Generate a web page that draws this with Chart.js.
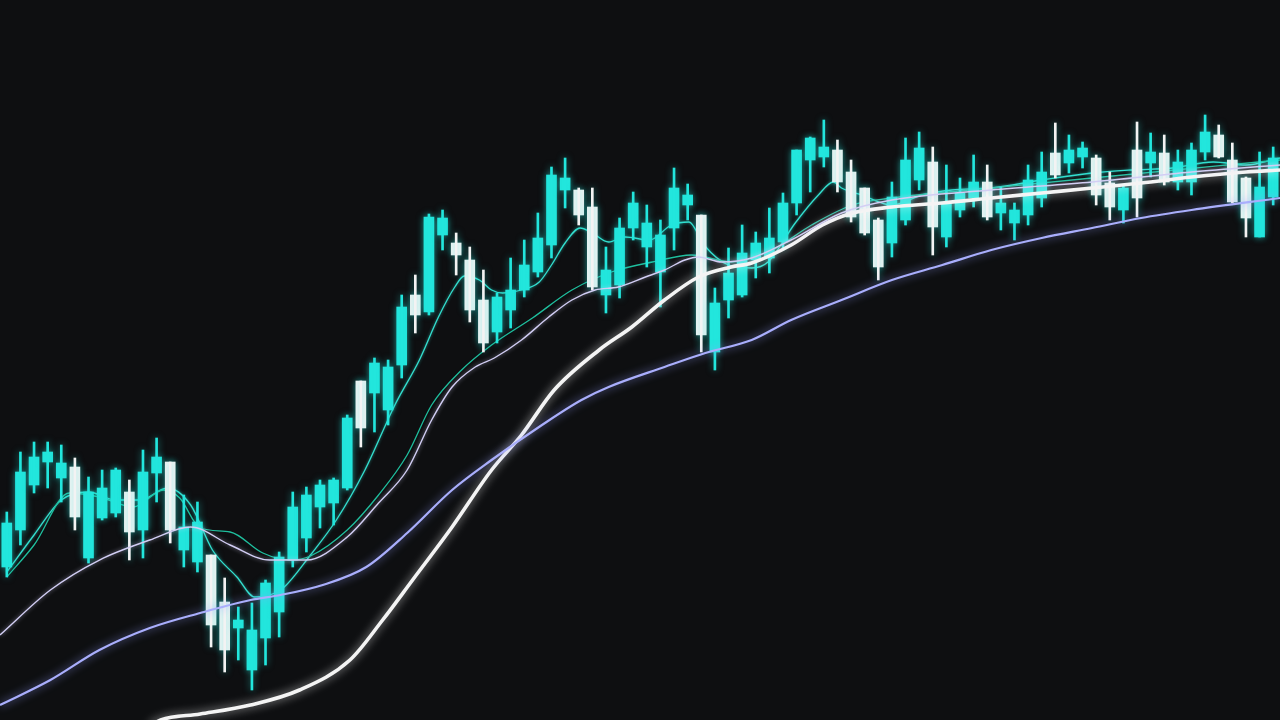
<!DOCTYPE html>
<html>
<head>
<meta charset="utf-8">
<script src="https://cdn.jsdelivr.net/npm/chart.js@4"></script>
<style>
  html, body { margin: 0; padding: 0; background: #0e0f11; }
  #wrap { width: 1280px; height: 720px; }
</style>
</head>
<body>
<div id="wrap"><canvas id="myChart" width="1280" height="720"></canvas></div>
<script>
// candle prices (one entry per session)
const opens  = [15.3,19.0,23.5,25.8,24.2,25.3,16.2,20.2,20.7,22.8,19.0,24.7,25.8,17.0,15.8,16.5,11.8,9.2,5.0,8.2,10.8,16.0,18.2,21.3,21.7,23.2,33.9,32.7,31.0,35.5,42.5,40.8,48.5,47.7,46.0,42.0,38.8,41.0,43.0,44.8,47.5,53.0,53.0,51.3,42.5,43.5,49.2,47.3,44.8,49.2,51.5,50.5,36.8,42.0,42.5,46.0,46.2,47.8,51.7,56.0,56.3,57.0,54.8,53.2,50.0,47.7,50.0,54.0,55.8,48.3,51.0,52.2,53.8,50.7,49.7,50.5,52.2,56.7,55.7,56.3,56.2,53.7,51.0,57.0,55.7,56.7,53.8,53.8,56.8,58.5,56.0,54.2,48.3,52.3];
const highs  = [20.8,26.8,27.8,27.8,27.5,26.2,24.3,25.0,25.2,24.0,27.0,28.2,25.8,22.5,21.8,16.5,14.2,11.3,11.7,14.0,16.8,22.8,23.3,24.0,24.2,30.5,33.9,36.2,36.0,42.5,44.5,50.6,51.0,48.7,47.3,45.0,42.7,46.2,48.0,50.7,55.3,56.2,53.2,53.2,47.3,50.2,52.8,51.5,50.0,55.2,53.6,50.5,43.2,47.2,49.5,48.8,51.2,52.7,57.0,58.3,60.0,58.0,56.0,53.2,50.2,53.8,58.2,58.8,57.3,55.5,54.2,56.5,55.5,53.3,51.7,55.5,56.8,59.7,58.5,57.8,56.5,54.8,53.5,59.8,58.7,58.5,57.0,57.7,60.5,59.5,57.7,54.3,56.8,57.3];
const lows   = [14.3,17.5,22.7,23.2,21.8,19.0,15.7,20.0,20.3,16.0,16.2,21.8,17.7,15.3,14.8,7.3,4.8,6.0,3.0,5.5,8.3,15.3,16.8,19.2,19.5,23.0,27.3,28.8,29.5,34.2,38.7,40.5,47.0,44.5,39.8,36.8,37.7,39.2,42.3,44.3,46.2,51.2,49.5,43.0,40.7,42.2,48.0,45.3,41.3,47.0,50.0,36.8,35.0,40.2,42.3,44.2,44.7,47.0,50.5,52.8,55.3,52.8,49.8,48.5,44.0,46.3,49.5,53.0,46.5,47.3,50.3,51.3,50.0,49.0,48.0,49.5,51.3,54.2,54.7,55.2,51.5,50.0,49.7,50.3,54.3,53.5,53.0,52.5,56.0,56.2,51.7,48.3,48.3,51.5];
const closes = [19.7,24.8,26.3,26.8,25.7,20.3,22.8,23.2,25.0,18.8,24.8,26.3,19.0,19.3,19.8,9.5,7.0,10.0,9.0,13.7,16.3,21.3,22.5,23.5,24.0,30.2,29.2,35.7,35.3,41.3,40.5,50.3,50.2,46.5,41.0,37.7,42.3,43.0,45.5,48.2,54.5,54.2,50.5,43.3,45.0,49.2,51.7,49.7,48.5,53.2,52.5,38.5,41.7,44.7,46.7,47.7,48.2,51.7,57.0,58.2,57.3,53.8,50.3,48.7,45.3,52.3,56.0,57.2,49.3,51.8,52.7,53.8,50.3,51.7,51.0,54.0,54.8,54.5,57.0,57.2,52.5,51.3,53.2,52.2,56.8,53.8,55.8,57.0,58.8,56.3,51.8,50.2,53.3,56.2];

// moving average lines, [session index, value]
const ma5 = [[0,14.8],[2,18.5],[4,22.0],[6,22.8],[8,22.0],[9.8,22.0],[11.8,23.2],[13.5,21.5],[15.1,17.0],[16.9,14.3],[18.2,12.3],[19.3,12.5],[20.3,13.2],[22.3,16.5],[24.2,20.0],[26.3,25.0],[28.5,31.5],[30.3,36.0],[31.7,40.3],[32.9,43.3],[33.6,44.4],[34.7,44.0],[35.6,43.0],[36.4,42.7],[37.8,43.0],[39.1,43.8],[40,45.5],[41,47.7],[42.1,49.2],[43,48.7],[44.2,47.8],[45.4,48.3],[47.2,48.0],[48.8,49.5],[50.1,49.8],[51.2,47.5],[53,45.5],[54.7,45.2],[55.9,45.8],[57.9,49.7],[59.6,52.5],[60.7,53.8],[61.3,53.2],[62.8,52.5],[65,51.5],[67.2,52.5],[69.4,53.0],[72.3,53.2],[76,54.0],[79.7,54.7],[82.6,55.0],[85.6,55.2],[88.6,55.8],[91,55.5],[93.5,56.2]];
const ma10 = [[0,14.3],[2,17.5],[4.6,22.7],[6.8,22.3],[9.3,21.3],[11.5,23.0],[12.7,22.2],[14.2,19.2],[16.4,18.8],[18.8,16.7],[20.8,16.0],[22.3,16.4],[25,19.0],[27.3,22.5],[29.4,26.5],[31.2,31.5],[33.4,35.0],[35.6,37.5],[38.6,40.2],[41.5,43.0],[44.4,44.8],[47.4,45.8],[50.3,46.5],[53.2,45.8],[56.2,47.0],[59.1,49.5],[62.1,51.5],[65,52.2],[72.3,53.2],[79.7,54.2],[93.5,56.0]];
const ma20 = [[-0.5,8.5],[3.2,13.0],[6.8,16.0],[10.5,18.0],[13.5,19.3],[16.4,17.5],[19.3,16.0],[22,16.0],[25,18.3],[27.3,21.7],[29.4,25.0],[31.2,30.0],[32.7,33.3],[34.4,35.3],[35.8,36.2],[37.8,38.0],[39.8,40.3],[41.5,42.0],[43.2,43.0],[44.9,43.3],[46.9,44.3],[48.3,45.0],[49.8,46.0],[50.8,46.3],[52.5,45.8],[54.7,46.2],[57.6,48.0],[61.3,50.7],[65,52.0],[72.3,53.0],[79.7,53.8],[87,54.8],[93.5,55.5]];
const ma30 = [[10.5,-0.6],[11.3,0.0],[14.2,0.6],[17.9,1.5],[21.5,3.0],[25.2,6.0],[27.6,10.0],[29.8,14.0],[32.7,19.3],[35.6,25.0],[37.8,28.5],[40.2,33.0],[43.5,37.0],[45.9,39.3],[48.3,42.0],[50.8,44.3],[53.2,45.3],[54.7,45.7],[57.6,47.5],[59.9,49.5],[62.1,50.7],[65,51.3],[68.7,51.7],[72.3,52.2],[76,52.7],[79.7,53.2],[83.3,53.7],[87,54.3],[91,54.8],[93.5,55.0]];
const ma60 = [[-0.5,1.5],[3.2,4.0],[6.8,7.0],[10.5,9.2],[14.2,10.7],[17.9,12.0],[20.1,12.5],[23.2,13.5],[26.4,15.3],[29.4,18.7],[32.7,23.0],[35.6,26.0],[39.3,29.5],[42.2,32.0],[44.2,33.3],[48.3,35.3],[51.3,36.7],[54.7,38.0],[57.6,40.0],[61.3,42.0],[65,44.0],[68.7,45.5],[72.3,47.0],[76,48.2],[79.7,49.2],[83.3,50.2],[87,51.0],[93.5,52.2]];

const UP = '#22e6dd';
const DOWN = '#f3f3f3';

const labels = opens.map((o, i) => 'd' + (i + 1));
const candleColors = opens.map((o, i) => closes[i] >= o ? UP : DOWN);

function toPoints(list) {
    return list.map(p => ({ x: p[0], y: p[1] }));
}

function maLine(list, color, width, glow, glowColor) {
    return {
        type: 'line',
        xAxisID: 'xl',
        data: toPoints(list),
        borderColor: color,
        borderWidth: width,
        pointRadius: 0,
        cubicInterpolationMode: 'monotone',
        fill: false,
        glow: glow,
        glowColor: glowColor
    };
}

// soft neon glow behind each dataset
const glowPlugin = {
    id: 'glow',
    beforeDatasetDraw(chart, args) {
        const ds = chart.data.datasets[args.index];
        const ctx = chart.ctx;
        ctx.save();
        ctx.shadowColor = ds.glowColor || 'rgba(255,255,255,0.6)';
        ctx.shadowBlur = ds.glow || 0;
    },
    afterDatasetDraw(chart) {
        chart.ctx.restore();
    }
};

const ctx = document.getElementById('myChart').getContext('2d');

const myChart = new Chart(ctx, {
    type: 'bar',
    data: {
        labels: labels,
        datasets: [
            maLine(ma60, '#a9aefc', 2.2, 8, 'rgba(150,160,255,0.8)'),
            maLine(ma20, '#d2cef4', 1.4, 4, 'rgba(220,215,255,0.6)'),
            maLine(ma30, '#f4f4f4', 3.6, 10, 'rgba(255,255,255,0.7)'),
            {
                // wicks
                data: lows.map((l, i) => [l, highs[i]]),
                backgroundColor: candleColors,
                barThickness: 2,
                grouped: false,
                borderSkipped: false,
                glow: 7,
                glowColor: 'rgba(40,230,220,0.55)'
            },
            {
                // bodies
                data: opens.map((o, i) => [o, closes[i]]),
                backgroundColor: candleColors,
                barThickness: 10,
                grouped: false,
                borderSkipped: false,
                glow: 7,
                glowColor: 'rgba(40,230,220,0.55)'
            },
            maLine(ma10, '#1fbf9e', 1.3, 0),
            maLine(ma5, '#34e0d0', 1.3, 3, 'rgba(60,230,215,0.6)')
        ]
    },
    options: {
        responsive: false,
        animation: false,
        layout: { padding: 0 },
        plugins: {
            legend: { display: false },
            tooltip: { enabled: false }
        },
        scales: {
            x: { display: false, offset: true, grid: { display: false } },
            xl: { type: 'linear', display: false, offset: false, min: -0.5, max: 93.5 },
            y: { display: false, min: 0, max: 72 }
        }
    },
    plugins: [glowPlugin]
});
</script>
</body>
</html>
